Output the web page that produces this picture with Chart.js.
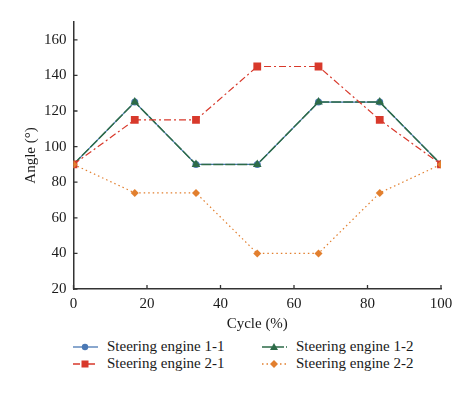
<!DOCTYPE html>
<html>
<head>
<meta charset="utf-8">
<script src="https://cdn.jsdelivr.net/npm/chart.js@4.4.0/dist/chart.umd.min.js"></script>
<style>
  body { margin: 0; background: #fff; }
  #wrap { position: relative; width: 474px; height: 395px; }
  #chartBox { position: absolute; left: 0; top: 0; width: 474px; height: 337px; }
  #legend { position: absolute; left: 73px; top: 338px; width: 400px;
    font-family: "Liberation Serif", "DejaVu Serif", serif; font-size: 15px; color: #1a1a1a; }
  .item { position: absolute; display: flex; align-items: center; white-space: nowrap; }
  .item svg { margin-right: 9px; }
</style>
</head>
<body>
<div id="wrap">
  <div id="chartBox"><canvas id="lineChart"></canvas></div>
  <div id="legend"></div>
</div>
<script>
const cycle = [0, 16.67, 33.33, 50, 66.67, 83.33, 100];
const engine11 = [90, 125, 90, 90, 125, 125, 90];
const engine12 = [90, 125, 90, 90, 125, 125, 90];
const engine21 = [90, 115, 115, 145, 145, 115, 90];
const engine22 = [90, 74, 74, 40, 40, 74, 90];
const xTicks = [0, 20, 40, 60, 80, 100];
const yTicks = [20, 40, 60, 80, 100, 120, 140, 160];

const series = [
    {label: 'Steering engine 1-1', data: engine11, color: '#4a78b4', dash: [], point: 'circle', r: 3.5, width: 1.2, order: 3},
    {label: 'Steering engine 1-2', data: engine12, color: '#2d6b48', dash: [10, 2], point: 'triangle', r: 5, width: 1.5, order: 2},
    {label: 'Steering engine 2-1', data: engine21, color: '#d8392b', dash: [7, 3, 2, 3], point: 'rect', r: 5.5, width: 1.2, order: 1},
    {label: 'Steering engine 2-2', data: engine22, color: '#e27f2e', dash: [1.5, 3], point: 'rectRot', r: 4, width: 1.2, order: 0}
];

const font = "'Liberation Serif', 'DejaVu Serif', serif";
const ink = '#1a1a1a';

// tick marks pointing into the plot
const innerTicks = {
    id: 'innerTicks',
    afterDraw(chart) {
        const ctx = chart.ctx;
        const x = chart.scales.x, y = chart.scales.y;
        const area = chart.chartArea;
        ctx.save();
        ctx.strokeStyle = '#333';
        ctx.lineWidth = 1.3;
        ctx.beginPath();
        xTicks.forEach(v => {
            const px = x.getPixelForValue(v);
            ctx.moveTo(px, area.bottom);
            ctx.lineTo(px, area.bottom - 4);
        });
        yTicks.forEach(v => {
            const py = y.getPixelForValue(v);
            ctx.moveTo(area.left, py);
            ctx.lineTo(area.left + 4, py);
        });
        ctx.stroke();
        ctx.restore();
    }
};

new Chart('lineChart', {
    type: 'line',
    data: {
        datasets: series.map(s => ({
            label: s.label,
            data: cycle.map((c, i) => ({x: c, y: s.data[i]})),
            borderColor: s.color,
            backgroundColor: s.color,
            borderDash: s.dash,
            borderWidth: s.width,
            pointStyle: s.point,
            pointRadius: s.r,
            pointBorderWidth: 0,
            order: s.order,
            fill: false,
            tension: 0
        }))
    },
    options: {
        responsive: true,
        maintainAspectRatio: false,
        animation: false,
        layout: {padding: {top: 22, right: 33, left: 22, bottom: 0}},
        plugins: {legend: {display: false}, tooltip: {enabled: false}},
        scales: {
            x: {
                type: 'linear', min: 0, max: 100,
                afterBuildTicks: scale => { scale.ticks = xTicks.map(v => ({value: v})); },
                grid: {display: false, drawTicks: false},
                border: {display: true, color: '#333', width: 1.5},
                ticks: {color: ink, padding: 6, font: {family: font, size: 15}},
                title: {display: true, text: 'Cycle (%)', color: ink, padding: {top: -4}, font: {family: font, size: 15}}
            },
            y: {
                min: 20, max: 170,
                afterBuildTicks: scale => { scale.ticks = yTicks.map(v => ({value: v})); },
                grid: {display: false, drawTicks: false},
                border: {display: true, color: '#333', width: 1.5},
                ticks: {color: ink, padding: 7, font: {family: font, size: 15}},
                title: {display: true, text: 'Angle (°)', color: ink, padding: {top: 0, bottom: -3}, font: {family: font, size: 15}}
            }
        }
    },
    plugins: [innerTicks]
});

// legend below the plot, two columns
const legendBox = document.getElementById('legend');
const spots = [[0, 0], [0, 189], [17, 0], [17, 189]];
const shapes = {
    circle: c => `<circle cx="12" cy="6" r="3.2" fill="${c}"/>`,
    triangle: c => `<polygon points="12,2 16,9 8,9" fill="${c}"/>`,
    rect: c => `<rect x="8.5" y="2.5" width="7" height="7" fill="${c}"/>`,
    rectRot: c => `<polygon points="12,2 16,6 12,10 8,6" fill="${c}"/>`
};
series.forEach((s, k) => {
    const el = document.createElement('div');
    el.className = 'item';
    el.style.top = spots[k][0] + 'px';
    el.style.left = spots[k][1] + 'px';
    const dash = s.dash.length ? `stroke-dasharray="${s.dash.join(' ')}"` : '';
    el.innerHTML = `<svg width="25" height="12"><line x1="0" y1="6" x2="25" y2="6" stroke="${s.color}" stroke-width="1.3" ${dash}/>${shapes[s.point](s.color)}</svg><span>${s.label}</span>`;
    legendBox.appendChild(el);
});
</script>
</body>
</html>
